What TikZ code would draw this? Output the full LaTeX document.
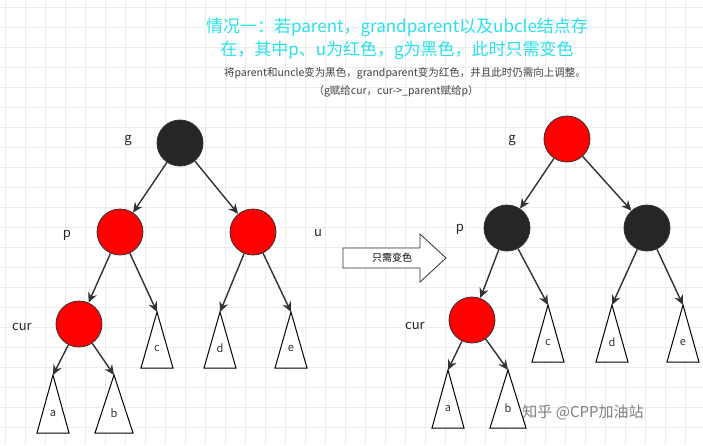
\documentclass[tikz,border=0pt]{standalone}
\usepackage{fontspec}
\setmainfont{Noto Sans CJK SC}
\usetikzlibrary{arrows.meta}
\definecolor{ttl}{RGB}{40,225,235}
\definecolor{gridc}{RGB}{236,236,236}
\definecolor{edge}{RGB}{50,50,50}
\tikzset{
 rb/.style={circle,draw=edge,line width=0.8pt,minimum size=46pt,inner sep=0pt},
 red/.style={rb,fill=red},
 blk/.style={rb,fill=black!85},
 con/.style={draw=edge,line width=1.4pt,-{Stealth[length=10pt,width=9pt]}},
 tri/.style={draw=black,line width=1pt,fill=white},
 lbl/.style={font=\fontsize{13}{15}\selectfont,text=black!85},
 tl/.style={font=\fontsize{11}{13}\selectfont,text=black!80}
}
\begin{document}
\begin{tikzpicture}[x=1pt,y=-1pt]
\useasboundingbox (0,0) rectangle (703,445);
\fill[white] (0,0) rectangle (703,445);
\foreach \i in {0,...,35} {\draw[gridc,line width=0.5pt] (\i*20+5,0) -- (\i*20+5,445);}
\foreach \j in {0,...,22} {\draw[gridc,line width=0.5pt] (0,\j*20+7) -- (703,\j*20+7);}
% titles
\node[text=ttl,font=\fontsize{17}{20}\selectfont] (t1) at (397,27) {情况一：若parent，grandparent以及ubcle结点存};
\node[text=ttl,font=\fontsize{17}{20}\selectfont] (t2) at (397,50) {在，其中p、u为红色，g为黑色，此时只需变色};
\node[text=black!75,font=\fontsize{10.5}{12}\selectfont] (t3) at (405,73) {将parent和uncle变为黑色，grandparent变为红色，并且此时仍需向上调整。};
\node[text=black!75,font=\fontsize{10.5}{12}\selectfont] (t4) at (396,91) {（g赋给cur，cur->\_parent赋给p）};
% triangles macro
\newcommand{\mytri}[6]{\draw[tri] (#2,#3) -- (#4,#5) -- (2*#2-#4,#5) -- cycle; \coordinate (#1) at (#2,#3); \node[tl] at (#2,#5-20) {#6};}
% left tree
\node[blk] (g1) at (180,143) {};
\node[red] (p1) at (120,232) {};
\node[red] (u1) at (253,232) {};
\node[red] (c1) at (79,324) {};
\mytri{tc1}{157}{312}{173}{368}{c}
\mytri{td1}{220}{312}{236}{368}{d}
\mytri{te1}{291}{312}{307}{368}{e}
\mytri{ta1}{53}{375}{69}{433}{a}
\mytri{tb1}{114}{375}{133}{433}{b}
\draw[con] (g1) -- (p1); \draw[con] (g1) -- (u1);
\draw[con] (p1) -- (c1); \draw[con] (p1) -- (tc1);
\draw[con] (u1) -- (td1); \draw[con] (u1) -- (te1);
\draw[con] (c1) -- (ta1); \draw[con] (c1) -- (tb1);
\node[lbl] (lg1) at (128,140) {g};
\node[lbl] (lp1) at (67,235) {p};
\node[lbl] (lu1) at (318,233) {u};
\node[lbl] (lc1) at (22,327) {cur};
% right tree
\node[red] (g2) at (567,139) {};
\node[blk] (p2) at (507,228) {};
\node[blk] (u2) at (647,228) {};
\node[red] (c2) at (472,320) {};
\mytri{tc2}{548}{305}{564}{362}{c}
\mytri{td2}{612}{305}{628}{362}{d}
\mytri{te2}{683}{305}{699}{362}{e}
\mytri{ta2}{448}{370}{464}{428}{a}
\mytri{tb2}{508}{370}{526}{428}{b}
\draw[con] (g2) -- (p2); \draw[con] (g2) -- (u2);
\draw[con] (p2) -- (c2); \draw[con] (p2) -- (tc2);
\draw[con] (u2) -- (td2); \draw[con] (u2) -- (te2);
\draw[con] (c2) -- (ta2); \draw[con] (c2) -- (tb2);
\node[lbl] (lg2) at (512,140) {g};
\node[lbl] (lp2) at (460,229) {p};
\node[lbl] (lc2) at (415,326) {cur};
% block arrow
\draw[draw=edge,line width=0.8pt,fill=white] (343,248) -- (420,248) -- (420,234) -- (446,258) -- (420,282) -- (420,268) -- (343,268) -- cycle;
\node[font=\fontsize{10}{12}\selectfont] (bl) at (392,258) {只需变色};
% watermark
\node[text=black!50,font=\fontsize{15}{17}\selectfont] (wm) at (583,412) {知乎 @CPP加油站};
\end{tikzpicture}
\end{document}
